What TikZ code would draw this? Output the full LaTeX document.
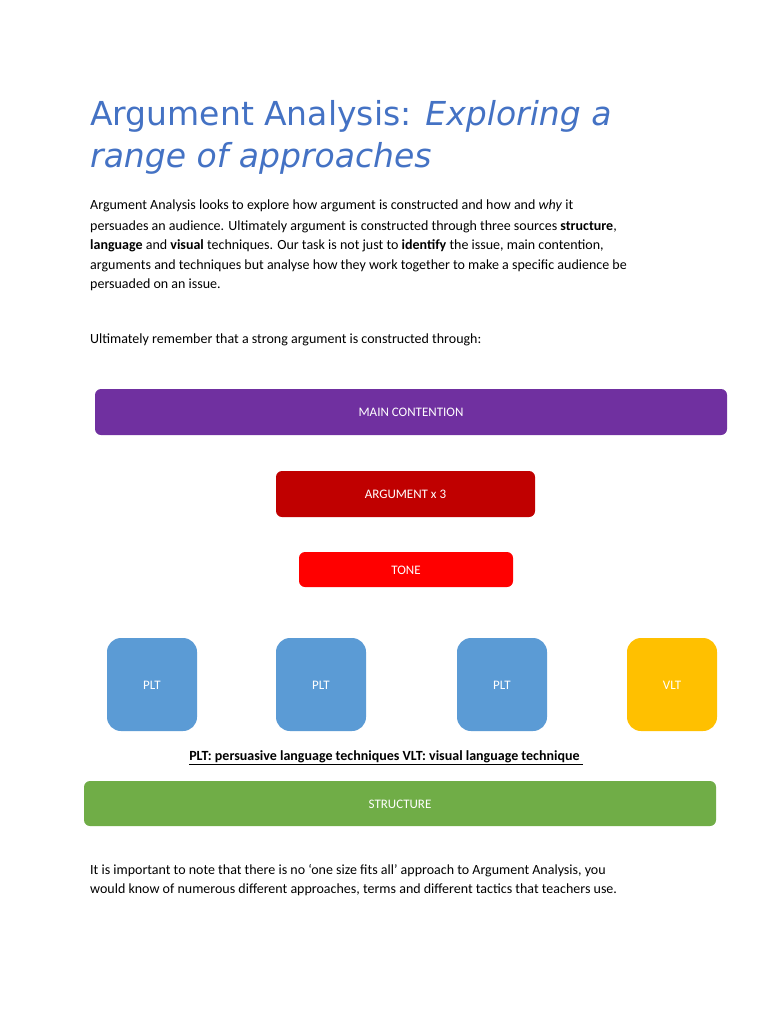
\documentclass[tikz,border=0pt]{standalone}
\usepackage{fontspec}
\setmainfont{Carlito}
\newfontfamily\titlefont{DejaVu Sans}
\definecolor{cpurple}{HTML}{7030A0}
\definecolor{cdred}{HTML}{C00000}
\definecolor{cred}{HTML}{FF0000}
\definecolor{cblue}{HTML}{5B9BD5}
\definecolor{cgold}{HTML}{FFC000}
\definecolor{cgreen}{HTML}{70AD47}
\definecolor{ctitle}{HTML}{4472C4}
\begin{document}
\begin{tikzpicture}[x=1pt,y=-1pt,
  body/.style={anchor=base west,inner sep=0pt,font=\fontsize{14}{17}\selectfont},
  boxlbl/.style={font=\fontsize{13}{15}\selectfont,text=white},
  pill/.style={rounded corners=6pt},
  tile/.style={rounded corners=14pt}]
\useasboundingbox (0,0) rectangle (768,1024);
\fill[white] (0,0) rectangle (768,1024);
\node[anchor=base west,inner sep=0pt,text=ctitle,font=\titlefont\fontsize{33}{40}\selectfont] (t1) at (90,126) {Argument Analysis: \textit{Exploring a}};
\node[anchor=base west,inner sep=0pt,text=ctitle,font=\titlefont\fontsize{33}{40}\selectfont] (t2) at (90,168) {\textit{range of approaches}};
\node[body] (p1) at (90,210) {Argument Analysis looks to explore how argument is constructed and how and \textit{why} it};
\node[body] (p2) at (90,230) {persuades an audience. Ultimately argument is constructed through three sources \textbf{structure},};
\node[body] (p3) at (90,249.5) {\textbf{language} and \textbf{visual} techniques. Our task is not just to \textbf{identify} the issue, main contention,};
\node[body] (p4) at (90,269) {arguments and techniques but analyse how they work together to make a specific audience be};
\node[body] (p5) at (90,288) {persuaded on an issue.};
\node[body] (p6) at (90,343) {Ultimately remember that a strong argument is constructed through:};
\fill[cpurple,pill] (95,389) rectangle (727,435);
\node[boxlbl] (mc) at (411,412) {MAIN CONTENTION};
\fill[cdred,pill] (276,471) rectangle (535,517);
\node[boxlbl] (arg) at (405.5,494) {ARGUMENT x 3};
\fill[cred,pill] (299,552) rectangle (513,587);
\node[boxlbl] (tone) at (406,570) {TONE};
\fill[cblue,tile] (107,638) rectangle (197,731);
\node[boxlbl] (plt1) at (152,685) {PLT};
\fill[cblue,tile] (276,638) rectangle (366,731);
\node[boxlbl] (plt2) at (321,685) {PLT};
\fill[cblue,tile] (457,638) rectangle (547,731);
\node[boxlbl] (plt3) at (502,685) {PLT};
\fill[cgold,tile] (627,638) rectangle (717,731);
\node[boxlbl] (vlt) at (672,685) {VLT};
\node[anchor=base,inner sep=0pt,font=\fontsize{14}{17}\selectfont\bfseries] (leg) at (386,760) {\underline{PLT: persuasive language techniques VLT: visual language technique\ }};
\fill[cgreen,pill] (84,781) rectangle (716,826);
\node[boxlbl] (st) at (400,804) {STRUCTURE};
\node[body] (q1) at (90,874) {It is important to note that there is no `one size fits all' approach to Argument Analysis, you};
\node[body] (q2) at (90,893) {would know of numerous different approaches, terms and different tactics that teachers use.};
\end{tikzpicture}
\end{document}
